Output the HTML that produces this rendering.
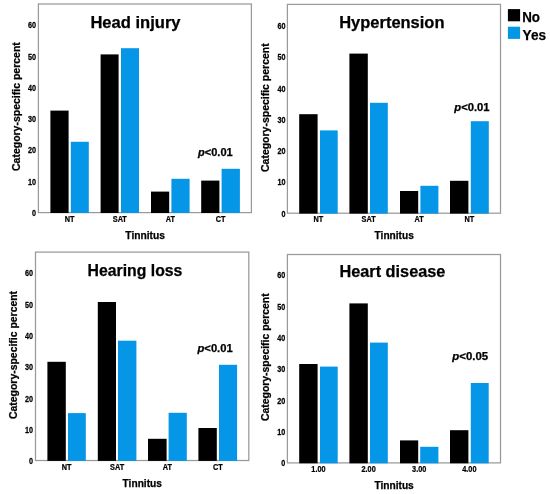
<!DOCTYPE html>
<html><head><meta charset="utf-8"><style>
html,body{margin:0;padding:0;background:#fff;}
body{width:550px;height:494px;overflow:hidden;}
svg{display:block;will-change:transform;}
text{font-family:"Liberation Sans",sans-serif;font-weight:bold;fill:#000;stroke:#000;stroke-width:0.25px;}
</style></head><body>
<svg width="550" height="494" viewBox="0 0 550 494">
<rect x="0" y="0" width="550" height="494" fill="#fff"/>

<rect x="38.40" y="4.00" width="213.00" height="208.60" fill="none" stroke="#9a9a9a" stroke-width="1.25"/>
<rect x="50.40" y="110.60" width="18.20" height="102.40" fill="#000"/>
<rect x="70.80" y="141.80" width="18.00" height="71.20" fill="rgb(5,150,232)"/>
<rect x="100.60" y="54.40" width="18.00" height="158.60" fill="#000"/>
<rect x="121.00" y="48.20" width="18.00" height="164.80" fill="rgb(5,150,232)"/>
<rect x="151.00" y="191.60" width="18.20" height="21.40" fill="#000"/>
<rect x="171.40" y="178.80" width="18.20" height="34.20" fill="rgb(5,150,232)"/>
<rect x="201.20" y="180.60" width="18.20" height="32.40" fill="#000"/>
<rect x="221.60" y="168.80" width="18.30" height="44.20" fill="rgb(5,150,232)"/>
<text transform="translate(36.10,216.01) scale(0.86,1)" font-size="8.4" text-anchor="end">0</text>
<text transform="translate(36.10,184.71) scale(0.86,1)" font-size="8.4" text-anchor="end">10</text>
<text transform="translate(36.10,153.41) scale(0.86,1)" font-size="8.4" text-anchor="end">20</text>
<text transform="translate(36.10,122.11) scale(0.86,1)" font-size="8.4" text-anchor="end">30</text>
<text transform="translate(36.10,90.81) scale(0.86,1)" font-size="8.4" text-anchor="end">40</text>
<text transform="translate(36.10,59.51) scale(0.86,1)" font-size="8.4" text-anchor="end">50</text>
<text transform="translate(36.10,28.21) scale(0.86,1)" font-size="8.4" text-anchor="end">60</text>
<text transform="translate(69.60,221.80) scale(0.85,1)" font-size="8.6" text-anchor="middle">NT</text>
<text transform="translate(119.80,221.80) scale(0.85,1)" font-size="8.6" text-anchor="middle">SAT</text>
<text transform="translate(170.30,221.80) scale(0.85,1)" font-size="8.6" text-anchor="middle">AT</text>
<text transform="translate(220.55,221.80) scale(0.85,1)" font-size="8.6" text-anchor="middle">CT</text>
<text transform="translate(19.90,171.00) rotate(-90)" x="0" y="0" font-size="10.6" textLength="128.80" lengthAdjust="spacingAndGlyphs">Category-specific percent</text>
<text x="125.30" y="238.70" font-size="10.2" textLength="39.70" lengthAdjust="spacingAndGlyphs">Tinnitus</text>
<text x="90.40" y="27.80" font-size="16.4" textLength="90.20" lengthAdjust="spacingAndGlyphs">Head injury</text>
<text x="198.00" y="156.40" font-size="10.2" textLength="34.70" lengthAdjust="spacingAndGlyphs"><tspan font-style="italic">p</tspan>&lt;0.01</text>
<rect x="287.40" y="4.40" width="213.10" height="208.80" fill="none" stroke="#9a9a9a" stroke-width="1.25"/>
<rect x="299.20" y="114.20" width="18.40" height="99.40" fill="#000"/>
<rect x="320.00" y="130.40" width="17.70" height="83.20" fill="rgb(5,150,232)"/>
<rect x="349.40" y="53.60" width="18.40" height="160.00" fill="#000"/>
<rect x="370.00" y="102.80" width="17.80" height="110.80" fill="rgb(5,150,232)"/>
<rect x="400.00" y="191.00" width="18.20" height="22.60" fill="#000"/>
<rect x="420.40" y="185.80" width="18.00" height="27.80" fill="rgb(5,150,232)"/>
<rect x="450.00" y="180.80" width="18.40" height="32.80" fill="#000"/>
<rect x="470.80" y="121.20" width="18.00" height="92.40" fill="rgb(5,150,232)"/>
<text transform="translate(285.60,216.76) scale(0.86,1)" font-size="8.4" text-anchor="end">0</text>
<text transform="translate(285.60,185.46) scale(0.86,1)" font-size="8.4" text-anchor="end">10</text>
<text transform="translate(285.60,154.16) scale(0.86,1)" font-size="8.4" text-anchor="end">20</text>
<text transform="translate(285.60,122.86) scale(0.86,1)" font-size="8.4" text-anchor="end">30</text>
<text transform="translate(285.60,91.56) scale(0.86,1)" font-size="8.4" text-anchor="end">40</text>
<text transform="translate(285.60,60.26) scale(0.86,1)" font-size="8.4" text-anchor="end">50</text>
<text transform="translate(285.60,28.96) scale(0.86,1)" font-size="8.4" text-anchor="end">60</text>
<text transform="translate(318.45,222.40) scale(0.85,1)" font-size="8.6" text-anchor="middle">NT</text>
<text transform="translate(368.60,222.40) scale(0.85,1)" font-size="8.6" text-anchor="middle">SAT</text>
<text transform="translate(419.20,222.40) scale(0.85,1)" font-size="8.6" text-anchor="middle">AT</text>
<text transform="translate(469.40,222.40) scale(0.85,1)" font-size="8.6" text-anchor="middle">NT</text>
<text transform="translate(268.80,172.00) rotate(-90)" x="0" y="0" font-size="10.6" textLength="128.70" lengthAdjust="spacingAndGlyphs">Category-specific percent</text>
<text x="374.60" y="239.30" font-size="10.2" textLength="39.20" lengthAdjust="spacingAndGlyphs">Tinnitus</text>
<text x="339.20" y="28.30" font-size="16.4" textLength="105.30" lengthAdjust="spacingAndGlyphs">Hypertension</text>
<text x="454.30" y="110.70" font-size="10.2" textLength="35.30" lengthAdjust="spacingAndGlyphs"><tspan font-style="italic">p</tspan>&lt;0.01</text>
<rect x="35.50" y="252.10" width="213.30" height="208.40" fill="none" stroke="#9a9a9a" stroke-width="1.25"/>
<rect x="47.40" y="361.80" width="18.40" height="99.10" fill="#000"/>
<rect x="68.00" y="413.10" width="17.80" height="47.80" fill="rgb(5,150,232)"/>
<rect x="97.80" y="302.00" width="18.20" height="158.90" fill="#000"/>
<rect x="118.00" y="340.70" width="18.40" height="120.20" fill="rgb(5,150,232)"/>
<rect x="148.00" y="438.80" width="18.60" height="22.10" fill="#000"/>
<rect x="168.60" y="412.80" width="18.20" height="48.10" fill="rgb(5,150,232)"/>
<rect x="198.40" y="428.00" width="18.40" height="32.90" fill="#000"/>
<rect x="219.00" y="364.80" width="18.10" height="96.10" fill="rgb(5,150,232)"/>
<text transform="translate(33.10,464.21) scale(0.86,1)" font-size="8.4" text-anchor="end">0</text>
<text transform="translate(33.10,432.91) scale(0.86,1)" font-size="8.4" text-anchor="end">10</text>
<text transform="translate(33.10,401.61) scale(0.86,1)" font-size="8.4" text-anchor="end">20</text>
<text transform="translate(33.10,370.31) scale(0.86,1)" font-size="8.4" text-anchor="end">30</text>
<text transform="translate(33.10,339.01) scale(0.86,1)" font-size="8.4" text-anchor="end">40</text>
<text transform="translate(33.10,307.71) scale(0.86,1)" font-size="8.4" text-anchor="end">50</text>
<text transform="translate(33.10,276.41) scale(0.86,1)" font-size="8.4" text-anchor="end">60</text>
<text transform="translate(66.60,469.80) scale(0.85,1)" font-size="8.6" text-anchor="middle">NT</text>
<text transform="translate(117.10,469.80) scale(0.85,1)" font-size="8.6" text-anchor="middle">SAT</text>
<text transform="translate(167.40,469.80) scale(0.85,1)" font-size="8.6" text-anchor="middle">AT</text>
<text transform="translate(217.75,469.80) scale(0.85,1)" font-size="8.6" text-anchor="middle">CT</text>
<text transform="translate(16.80,419.00) rotate(-90)" x="0" y="0" font-size="10.6" textLength="128.10" lengthAdjust="spacingAndGlyphs">Category-specific percent</text>
<text x="122.60" y="487.00" font-size="10.2" textLength="39.30" lengthAdjust="spacingAndGlyphs">Tinnitus</text>
<text x="87.60" y="276.00" font-size="16.4" textLength="94.80" lengthAdjust="spacingAndGlyphs">Hearing loss</text>
<text x="197.50" y="352.10" font-size="10.2" textLength="35.20" lengthAdjust="spacingAndGlyphs"><tspan font-style="italic">p</tspan>&lt;0.01</text>
<rect x="287.40" y="254.50" width="213.10" height="208.40" fill="none" stroke="#9a9a9a" stroke-width="1.25"/>
<rect x="299.20" y="364.00" width="18.40" height="99.30" fill="#000"/>
<rect x="320.00" y="366.60" width="17.70" height="96.70" fill="rgb(5,150,232)"/>
<rect x="349.40" y="303.40" width="18.40" height="159.90" fill="#000"/>
<rect x="370.00" y="342.60" width="17.80" height="120.70" fill="rgb(5,150,232)"/>
<rect x="400.00" y="440.40" width="18.20" height="22.90" fill="#000"/>
<rect x="420.20" y="446.80" width="18.20" height="16.50" fill="rgb(5,150,232)"/>
<rect x="450.00" y="430.20" width="18.40" height="33.10" fill="#000"/>
<rect x="470.80" y="383.00" width="17.90" height="80.30" fill="rgb(5,150,232)"/>
<text transform="translate(285.30,466.21) scale(0.86,1)" font-size="8.4" text-anchor="end">0</text>
<text transform="translate(285.30,434.91) scale(0.86,1)" font-size="8.4" text-anchor="end">10</text>
<text transform="translate(285.30,403.61) scale(0.86,1)" font-size="8.4" text-anchor="end">20</text>
<text transform="translate(285.30,372.31) scale(0.86,1)" font-size="8.4" text-anchor="end">30</text>
<text transform="translate(285.30,341.01) scale(0.86,1)" font-size="8.4" text-anchor="end">40</text>
<text transform="translate(285.30,309.71) scale(0.86,1)" font-size="8.4" text-anchor="end">50</text>
<text transform="translate(285.30,278.41) scale(0.86,1)" font-size="8.4" text-anchor="end">60</text>
<text transform="translate(318.45,471.90) scale(0.85,1)" font-size="8.6" text-anchor="middle">1.00</text>
<text transform="translate(368.60,471.90) scale(0.85,1)" font-size="8.6" text-anchor="middle">2.00</text>
<text transform="translate(419.20,471.90) scale(0.85,1)" font-size="8.6" text-anchor="middle">3.00</text>
<text transform="translate(469.35,471.90) scale(0.85,1)" font-size="8.6" text-anchor="middle">4.00</text>
<text transform="translate(268.70,421.00) rotate(-90)" x="0" y="0" font-size="10.6" textLength="127.70" lengthAdjust="spacingAndGlyphs">Category-specific percent</text>
<text x="374.40" y="488.90" font-size="10.2" textLength="39.40" lengthAdjust="spacingAndGlyphs">Tinnitus</text>
<text x="339.40" y="277.40" font-size="16.4" textLength="106.00" lengthAdjust="spacingAndGlyphs">Heart disease</text>
<text x="452.30" y="359.70" font-size="10.2" textLength="35.80" lengthAdjust="spacingAndGlyphs"><tspan font-style="italic">p</tspan>&lt;0.05</text>
<rect x="507.9" y="9.1" width="12.2" height="12.2" fill="#000"/>
<rect x="507.9" y="26.7" width="12.2" height="12.2" fill="rgb(5,150,232)"/>
<text x="522.2" y="21.8" font-size="14" textLength="17.8" lengthAdjust="spacingAndGlyphs">No</text>
<text x="522.6" y="39.5" font-size="14" textLength="23.4" lengthAdjust="spacingAndGlyphs">Yes</text>
</svg>
</body></html>
